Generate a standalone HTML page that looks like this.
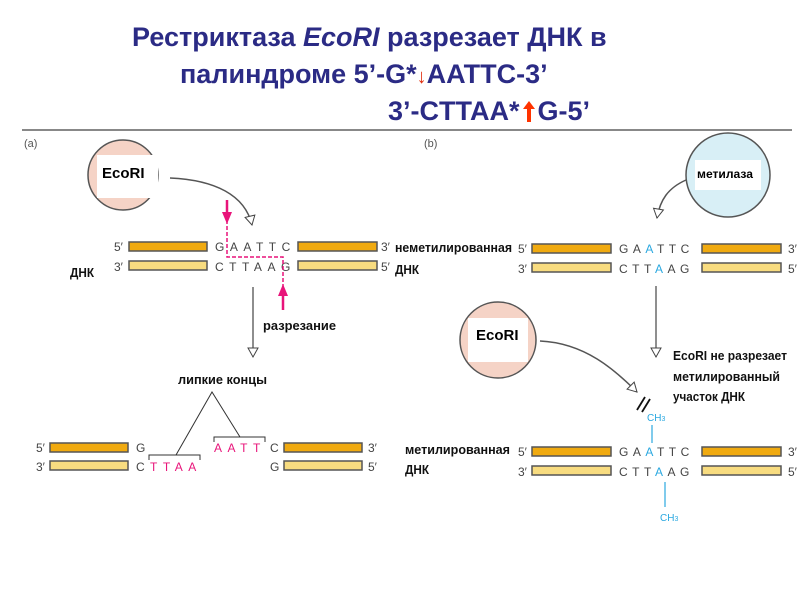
<!DOCTYPE html>
<html><head><meta charset="utf-8"><style>
body{margin:0;width:800px;height:600px;background:#fff;overflow:hidden;font-family:"Liberation Sans",sans-serif}
.t{position:absolute;color:#2b2b85;font-weight:bold;font-size:27px;white-space:nowrap}
</style></head><body>
<div class="t" style="left:132px;top:22px">Рестриктаза <i>EcoRI</i> разрезает ДНК в</div>
<div class="t" style="left:180px;top:59px">палиндроме 5’-G*<span style="color:#e03010;font-size:20px;font-weight:normal">↓</span>AATTC-3’</div>
<div class="t" style="left:388px;top:96px">3’-CTTAA*<svg width="14" height="22" style="vertical-align:-2px;margin:0 2px"><path d="M7,1 L13,9 L9,9 L9,22 L5,22 L5,9 L1,9 Z" fill="#ff3300"/></svg>G-5’</div>
<svg width="800" height="600" style="position:absolute;left:0;top:0" font-family="Liberation Sans, sans-serif">
<defs>
<marker id="oa" markerUnits="userSpaceOnUse" markerWidth="12" markerHeight="12" refX="10" refY="6" orient="auto"><path d="M1,1 L10,6 L1,11 Z" fill="#fff" stroke="#444"/></marker>
<marker id="ma" markerUnits="userSpaceOnUse" markerWidth="12" markerHeight="12" refX="6" refY="6" orient="auto"><path d="M0,1 L12,6 L0,11 Z" fill="#e8147a"/></marker>
</defs>
<line x1="22" y1="130" x2="792" y2="130" stroke="#888" stroke-width="2"/>
<g font-size="11" fill="#555"><text x="24" y="147">(a)</text><text x="424" y="147">(b)</text></g>
<circle cx="123" cy="175" r="35" fill="#f5d3c6" stroke="#555" stroke-width="1.5"/>
<rect x="97" y="155" width="61" height="43" fill="#fff"/>
<text x="102" y="178" font-size="15" font-weight="bold">EcoRI</text>
<path d="M170,178 C215,180 245,195 252,225" fill="none" stroke="#555" stroke-width="1.5" marker-end="url(#oa)"/>
<g stroke="#555" stroke-width="1.5">
<rect x="129" y="242" width="78" height="9" fill="#f0aa10"/>
<rect x="129" y="261" width="78" height="9" fill="#f8dc80"/>
<rect x="298" y="242" width="79" height="9" fill="#f0aa10"/>
<rect x="298" y="261" width="79" height="9" fill="#f8dc80"/>
<rect x="50" y="443" width="78" height="9" fill="#f0aa10"/>
<rect x="50" y="461" width="78" height="9" fill="#f8dc80"/>
<rect x="284" y="443" width="78" height="9" fill="#f0aa10"/>
<rect x="284" y="461" width="78" height="9" fill="#f8dc80"/>
</g>
<g font-size="12" fill="#444">
<text x="114" y="251">5′</text><text x="114" y="271">3′</text>
<text x="381" y="251">3′</text><text x="381" y="271">5′</text>
<text x="215" y="251" letter-spacing="5.5">GAATTC</text>
<text x="215" y="271" letter-spacing="5.5">CTTAAG</text>
<text x="36" y="452">5′</text><text x="36" y="471">3′</text>
<text x="368" y="452">3′</text><text x="368" y="471">5′</text>
<text x="136" y="452">G</text><text x="136" y="471">C</text>
<text x="270" y="452">C</text><text x="270" y="471">G</text>
</g>
<g font-size="12" fill="#e8147a">
<text x="150" y="471" letter-spacing="5.5">TTAA</text>
<text x="214" y="452" letter-spacing="5.5">AATT</text>
</g>
<path d="M227,220 L227,257 L283,257 L283,290" fill="none" stroke="#e8147a" stroke-width="1.5" stroke-dasharray="4,2"/>
<line x1="227" y1="200" x2="227" y2="218" stroke="#e8147a" stroke-width="2.5" marker-end="url(#ma)"/>
<line x1="283" y1="310" x2="283" y2="290" stroke="#e8147a" stroke-width="2.5" marker-end="url(#ma)"/>
<line x1="253" y1="287" x2="253" y2="357" stroke="#444" stroke-width="1.2" marker-end="url(#oa)"/>
<g font-size="13" font-weight="bold" fill="#111">
<text x="70" y="277" textLength="24" lengthAdjust="spacingAndGlyphs">ДНК</text>
<text x="263" y="330" textLength="73" lengthAdjust="spacingAndGlyphs">разрезание</text>
<text x="178" y="384" textLength="89" lengthAdjust="spacingAndGlyphs">липкие концы</text>
</g>
<g stroke="#333" stroke-width="1" fill="none">
<path d="M176,455 L212,392 L240,437"/>
<path d="M149,460 L149,455 L200,455 L200,460"/>
<path d="M214,442 L214,437 L265,437 L265,442"/>
</g>
<circle cx="728" cy="175" r="42" fill="#d8eff6" stroke="#555" stroke-width="1.5"/>
<rect x="695" y="160" width="66" height="30" fill="#fff"/>
<text x="697" y="178" font-size="12" font-weight="bold" textLength="56" lengthAdjust="spacingAndGlyphs">метилаза</text>
<path d="M686,180 C668,188 660,200 657,218" fill="none" stroke="#555" stroke-width="1.5" marker-end="url(#oa)"/>
<circle cx="498" cy="340" r="38" fill="#f5d3c6" stroke="#555" stroke-width="1.5"/>
<rect x="468" y="318" width="60" height="44" fill="#fff"/>
<text x="476" y="340" font-size="15" font-weight="bold">EcoRI</text>
<path d="M540,341 C585,343 615,370 637,392" fill="none" stroke="#555" stroke-width="1.5" marker-end="url(#oa)"/>
<g stroke="#111" stroke-width="1.8"><line x1="637" y1="410" x2="645" y2="397"/><line x1="642" y1="412" x2="650" y2="399"/></g>
<g stroke="#555" stroke-width="1.5">
<rect x="532" y="244" width="79" height="9" fill="#f0aa10"/>
<rect x="532" y="263" width="79" height="9" fill="#f8dc80"/>
<rect x="702" y="244" width="79" height="9" fill="#f0aa10"/>
<rect x="702" y="263" width="79" height="9" fill="#f8dc80"/>
<rect x="532" y="447" width="79" height="9" fill="#f0aa10"/>
<rect x="532" y="466" width="79" height="9" fill="#f8dc80"/>
<rect x="702" y="447" width="79" height="9" fill="#f0aa10"/>
<rect x="702" y="466" width="79" height="9" fill="#f8dc80"/>
</g>
<g font-size="12" fill="#444">
<text x="518" y="253">5′</text><text x="518" y="273">3′</text>
<text x="788" y="253">3′</text><text x="788" y="273">5′</text>
<text x="518" y="456">5′</text><text x="518" y="476">3′</text>
<text x="788" y="456">3′</text><text x="788" y="476">5′</text>
<text x="619" y="253" letter-spacing="4.5">GA<tspan fill="#2aa8e0">A</tspan>TTC</text>
<text x="619" y="273" letter-spacing="4.5">CTT<tspan fill="#2aa8e0">A</tspan>AG</text>
<text x="619" y="456" letter-spacing="4.5">GA<tspan fill="#2aa8e0">A</tspan>TTC</text>
<text x="619" y="476" letter-spacing="4.5">CTT<tspan fill="#2aa8e0">A</tspan>AG</text>
</g>
<line x1="656" y1="286" x2="656" y2="357" stroke="#444" stroke-width="1.2" marker-end="url(#oa)"/>
<g fill="#2aa8e0" font-size="10"><text x="647" y="421">CH<tspan font-size="7">3</tspan></text><text x="660" y="521">CH<tspan font-size="7">3</tspan></text></g>
<g stroke="#2aa8e0" stroke-width="1.2"><line x1="652" y1="425" x2="652" y2="443"/><line x1="665" y1="482" x2="665" y2="507"/></g>
<g font-size="13" font-weight="bold" fill="#111">
<text x="395" y="252" textLength="117" lengthAdjust="spacingAndGlyphs">неметилированная</text><text x="395" y="274" textLength="24" lengthAdjust="spacingAndGlyphs">ДНК</text>
<text x="405" y="454" textLength="105" lengthAdjust="spacingAndGlyphs">метилированная</text><text x="405" y="474" textLength="24" lengthAdjust="spacingAndGlyphs">ДНК</text>
<text x="673" y="360" textLength="114" lengthAdjust="spacingAndGlyphs">EcoRI не разрезает</text>
<text x="673" y="381" textLength="107" lengthAdjust="spacingAndGlyphs">метилированный</text>
<text x="673" y="401" textLength="72" lengthAdjust="spacingAndGlyphs">участок ДНК</text>
</g>
</svg>
</body></html>
